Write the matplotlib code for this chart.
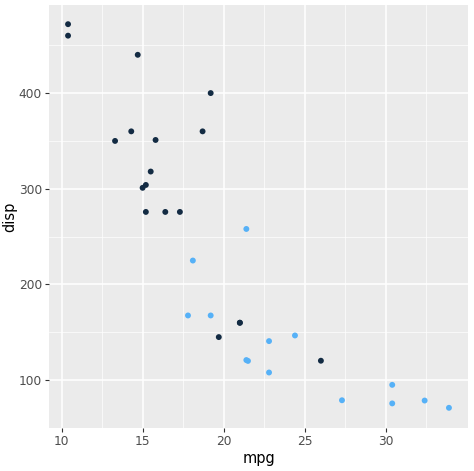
import matplotlib
matplotlib.use("Agg")
import matplotlib.pyplot as plt

mpg = [21.0,21.0,22.8,21.4,18.7,18.1,14.3,24.4,22.8,19.2,17.8,16.4,17.3,15.2,10.4,10.4,14.7,32.4,30.4,33.9,21.5,15.5,15.2,13.3,19.2,27.3,26.0,30.4,15.8,19.7,15.0,21.4]
disp = [160,160,108,258,360,225,360,146.7,140.8,167.6,167.6,275.8,275.8,275.8,472,460,440,78.7,75.7,71.1,120.1,318,304,350,400,79,120.3,95.1,351,145,301,121]
vs = [0,0,1,1,0,1,0,1,1,1,1,0,0,0,0,0,0,1,1,1,1,0,0,0,0,1,0,1,0,0,0,1]

colors = ['#56B1F7' if v else '#132B43' for v in vs]

fig = plt.figure(figsize=(4.74, 4.71), dpi=100)
ax = fig.add_axes([49/474, 43/471, 419/474, 423/471])
ax.set_facecolor('#EBEBEB')
ax.scatter(mpg, disp, c=colors, s=18, zorder=3, linewidths=0)
xr = max(mpg)-min(mpg); yr = max(disp)-min(disp)
ax.set_xlim(min(mpg)-0.05*xr, max(mpg)+0.05*xr)
ax.set_ylim(min(disp)-0.05*yr, max(disp)+0.05*yr)
ax.set_xticks([10,15,20,25,30])
ax.set_yticks([100,200,300,400])
ax.set_xticks([12.5,17.5,22.5,27.5,32.5], minor=True)
ax.set_yticks([50,150,250,350,450], minor=True)
ax.grid(True, which='major', color='white', linewidth=1.1, zorder=0)
ax.grid(True, which='minor', color='white', linewidth=0.5, zorder=0)
for s in ax.spines.values():
    s.set_visible(False)
ax.tick_params(which='major', colors='#333333', labelcolor='#4D4D4D', labelsize=8.8, length=3, pad=2)
ax.tick_params(which='minor', length=0)
ax.set_xlabel('mpg', fontsize=10.5, labelpad=2)
ax.set_ylabel('disp', fontsize=10.5, labelpad=1)
fig.savefig('out.png', dpi=100, facecolor='white')
